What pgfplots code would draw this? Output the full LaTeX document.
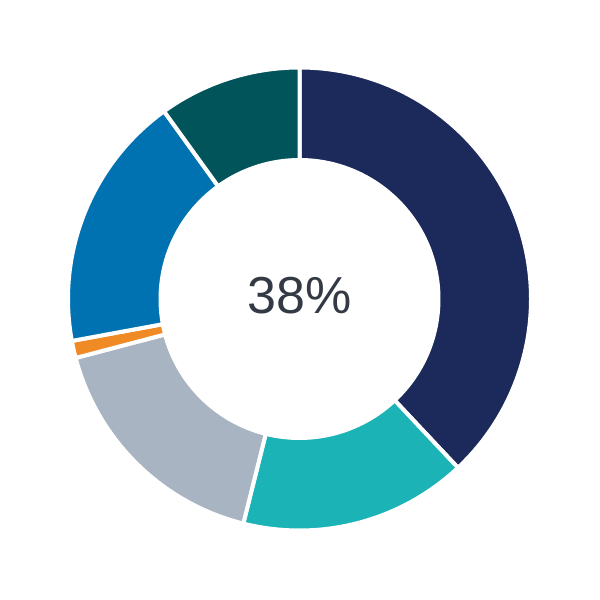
\documentclass[border=0pt]{standalone}
\usepackage{pgfplots}
\pgfplotsset{compat=1.18}
\usepackage{fontspec}
\setmainfont{Liberation Sans}
\definecolor{cnavy}{HTML}{1B2A5A}
\definecolor{cteal}{HTML}{1BB3B5}
\definecolor{cgray}{HTML}{A8B4C2}
\definecolor{corange}{HTML}{F08A24}
\definecolor{cblue}{HTML}{0072B2}
\definecolor{cgreen}{HTML}{00545A}
\definecolor{ctext}{HTML}{333A44}
% #1 start (cumulative %), #2 end (cumulative %), #3 colour
\newcommand\slice[3]{%
  \fill[#3, draw=white, line width=2pt, line join=miter]
    (axis cs:0,0) ++({90-3.6*#1}:115.75pt)
    arc[start angle={90-3.6*#1}, end angle={90-3.6*#2}, radius=115.75pt]
    -- ++({90-3.6*#2}:-46.25pt)
    arc[start angle={90-3.6*#2}, end angle={90-3.6*#1}, radius=69.5pt]
    -- cycle;}
\begin{document}
\begin{tikzpicture}
\begin{axis}[
  scale only axis, width=300pt, height=300pt,
  xmin=-299.5, xmax=300.5, ymin=-301, ymax=299,
  hide axis, clip=false]
\path (rel axis cs:0,0) rectangle (rel axis cs:1,1);
% shares in %: 38.0, 15.9, 17.0, 1.2, 17.95, 9.95
\slice{0}{38.0}{cnavy}
\slice{38.0}{53.9}{cteal}
\slice{53.9}{70.9}{cgray}
\slice{70.9}{72.1}{corange}
\slice{72.1}{90.05}{cblue}
\slice{90.05}{100}{cgreen}
\node[text=ctext, font=\fontsize{26}{30}\selectfont] at (axis cs:0,3) {38\%};
\end{axis}
\end{tikzpicture}
\end{document}
